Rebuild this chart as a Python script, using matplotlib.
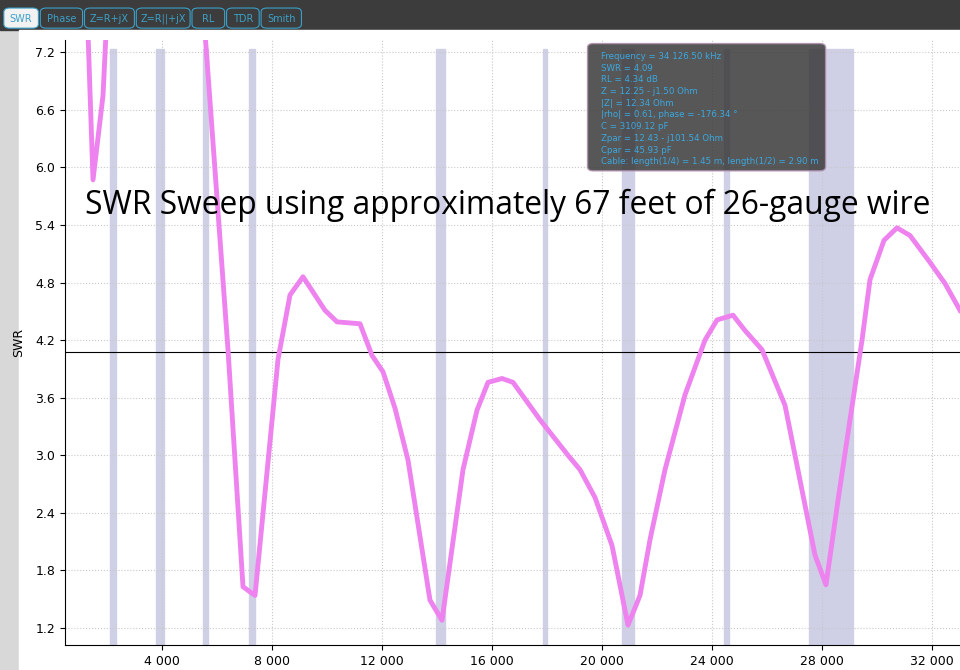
import matplotlib.pyplot as plt
from matplotlib.patches import FancyBboxPatch, Rectangle
import matplotlib.ticker as mticker

# SWR sweep data (kHz, SWR)
freq = [1309, 1491, 1855, 1964, 5564, 5927, 6400, 6945, 7382, 8218, 8655, 9127,
        9927, 10364, 11200, 11636, 12036, 12473, 12945, 13745, 14182, 14945, 15455,
        15855, 16364, 16764, 17745, 18764, 19200, 19745, 20364, 20945, 21382, 21745,
        22291, 23018, 23745, 24182, 24764, 25200, 25818, 26655, 27200, 27745, 28145,
        28582, 29018, 29455, 29745, 30255, 30727, 31200, 31927, 32473, 33018]
swr = [7.4, 5.87, 6.75, 7.4, 7.4, 5.97, 4.1, 1.63, 1.54, 4.0, 4.67, 4.86,
       4.51, 4.39, 4.37, 4.04, 3.87, 3.49, 2.95, 1.49, 1.28, 2.85, 3.47,
       3.76, 3.80, 3.76, 3.37, 3.0, 2.85, 2.56, 2.06, 1.23, 1.54, 2.12,
       2.85, 3.63, 4.2, 4.41, 4.46, 4.3, 4.1, 3.52, 2.74, 1.96, 1.65,
       2.53, 3.37, 4.2, 4.83, 5.24, 5.37, 5.29, 5.01, 4.79, 4.51]

# highlighted bands as drawn (kHz)
bands = [(2109, 2327), (3782, 4073), (5491, 5673), (7164, 7382), (13964, 14291),
         (17855, 18000), (20727, 21164), (24436, 24618), (27527, 29127)]
marker_swr = 4.075

info = ["Frequency = 34 126.50 kHz", "SWR = 4.09", "RL = 4.34 dB",
        "Z = 12.25 - j1.50 Ohm", "|Z| = 12.34 Ohm", "|rho| = 0.61, phase = -176.34 °",
        "C = 3109.12 pF", "Zpar = 12.43 - j101.54 Ohm", "Cpar = 45.93 pF",
        "Cable: length(1/4) = 1.45 m, length(1/2) = 2.90 m"]
tabs = ["SWR", "Phase", "Z=R+jX", "Z=R||+jX", "RL", "TDR", "Smith"]

fig = plt.figure(figsize=(9.6, 6.7), dpi=100)
fig.patch.set_facecolor('#d8d8d8')

# tab bar and white panel, behind everything
fig.patches.append(Rectangle((0, 0.955), 1, 0.045, transform=fig.transFigure,
                             color='#3c3c3c', zorder=-10))
fig.patches.append(Rectangle((0.02, 0.0), 0.98, 0.955, transform=fig.transFigure,
                             color='white', zorder=-10))
tab_x = [0.004, 0.042, 0.088, 0.142, 0.200, 0.236, 0.272]
tab_w = [0.036, 0.044, 0.052, 0.056, 0.034, 0.034, 0.042]
for i, (t, x, w) in enumerate(zip(tabs, tab_x, tab_w)):
    fc = '#f2f2f2' if i == 0 else '#3c3c3c'
    fig.patches.append(FancyBboxPatch((x, 0.958), w, 0.03, transform=fig.transFigure,
                                      boxstyle='round,pad=0,rounding_size=0.006',
                                      fc=fc, ec='#3aa0c8', lw=0.8, zorder=-5))
    fig.text(x + w / 2, 0.972, t, fontsize=7, color='#3aa0c8', ha='center', va='center')

ax = fig.add_axes([0.0677, 0.0373, 0.9323, 0.9027])
ax.patch.set_alpha(0)
ax.set_xlim(472, 33018)
ax.set_ylim(1.023, 7.325)
for lo, hi in bands:
    ax.axvspan(lo, hi, ymax=(7.23 - 1.023) / (7.325 - 1.023), color='#cfd0e6', lw=1, zorder=1)
ax.plot(freq, swr, color='#ee82ee', lw=3.5, zorder=3)
ax.axhline(marker_swr, color='black', lw=0.8, zorder=2)

ax.set_xticks(range(4000, 33000, 4000))
ax.set_yticks([1.2, 1.8, 2.4, 3.0, 3.6, 4.2, 4.8, 5.4, 6.0, 6.6, 7.2])
ax.xaxis.set_major_formatter(mticker.FuncFormatter(lambda v, p: f"{int(v):,}".replace(',', ' ')))
ax.yaxis.set_major_formatter(mticker.FormatStrFormatter('%.1f'))
ax.grid(True, color='#c8c8c8', linestyle=':', lw=0.8)
ax.tick_params(labelsize=9, direction='out')
ax.set_ylabel('SWR', fontsize=9)
ax.yaxis.set_label_coords(-0.045, 0.5)
for s in ['top', 'right']:
    ax.spines[s].set_visible(False)

ax.text(0.495, 0.727, 'SWR Sweep using approximately 67 feet of 26-gauge wire',
        transform=ax.transAxes, fontsize=22.9, ha='center', va='center',
        family='Open Sans', zorder=6)

# info box
fig.patches.append(FancyBboxPatch((0.612, 0.745), 0.248, 0.19, transform=fig.transFigure,
                                  boxstyle='round,pad=0,rounding_size=0.006',
                                  fc='#3a3a3a', ec='#b090b0', lw=1, alpha=0.85, zorder=5))
for i, line in enumerate(info):
    fig.text(0.626, 0.916 - i * 0.0175, line, fontsize=6.2, color='#3aa8e0',
             va='center', zorder=6)

fig.savefig('out.png', dpi=100)
